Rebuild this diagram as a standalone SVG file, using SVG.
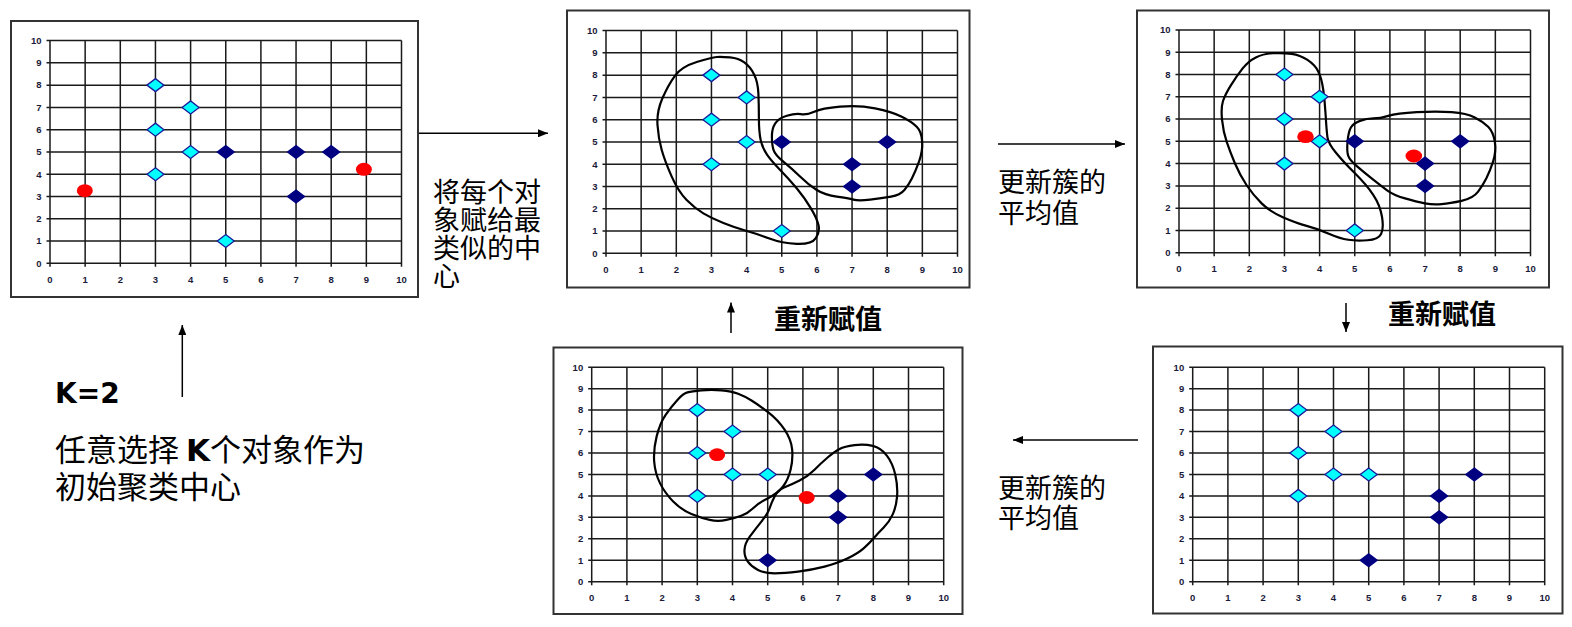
<svg xmlns="http://www.w3.org/2000/svg" xmlns:xlink="http://www.w3.org/1999/xlink" width="1572" height="627" viewBox="0 0 1572 627">
<style>
.frame{fill:#fff;stroke:#333;stroke-width:2}
.ax{font-family:"Liberation Sans",Arial,sans-serif;font-size:9.5px;font-weight:bold;fill:#1a1a3a}
.blob{fill:none;stroke:#000;stroke-width:2.2;stroke-linejoin:round;vector-effect:non-scaling-stroke}
.cy{fill:#00ffff;stroke:#1a1a99;stroke-width:1.3}
.dk{fill:#000080;stroke:#000080;stroke-width:1.3}
.red{fill:#ff0000}
.cn{font-family:"Noto Sans CJK SC","Noto Sans",sans-serif;font-size:27px;fill:#000}
.cnb{font-family:"Noto Sans CJK SC","Noto Sans",sans-serif;font-size:27px;font-weight:bold;fill:#000}
.conn{stroke:#000;stroke-width:1.5;fill:none;marker-end:url(#ah)}
</style>
<defs>
<marker id="ah" markerWidth="10" markerHeight="8" refX="10" refY="4" orient="auto" markerUnits="userSpaceOnUse"><path d="M0,0L10,4L0,8Z" fill="#000"/></marker>
<path id="dm" d="M-8.5,0L0,-6.5L8.5,0L0,6.5Z"/>
<path id="gridA" d="M0,3.5V-222.7M35.15,3.5V-222.7M70.3,3.5V-222.7M105.45,3.5V-222.7M140.6,3.5V-222.7M175.75,3.5V-222.7M210.9,3.5V-222.7M246.05,3.5V-222.7M281.2,3.5V-222.7M316.35,3.5V-222.7M351.5,3.5V-222.7M-3.5,0H351.5M-3.5,-22.27H351.5M-3.5,-44.54H351.5M-3.5,-66.81H351.5M-3.5,-89.08H351.5M-3.5,-111.35H351.5M-3.5,-133.62H351.5M-3.5,-155.89H351.5M-3.5,-178.16H351.5M-3.5,-200.43H351.5M-3.5,-222.7H351.5" fill="none" stroke="#1a1a1a" stroke-width="1.5"/>
<path id="gridB" d="M0,3.5V-214.5M35.2,3.5V-214.5M70.4,3.5V-214.5M105.6,3.5V-214.5M140.8,3.5V-214.5M176,3.5V-214.5M211.2,3.5V-214.5M246.4,3.5V-214.5M281.6,3.5V-214.5M316.8,3.5V-214.5M352,3.5V-214.5M-3.5,0H352M-3.5,-21.45H352M-3.5,-42.9H352M-3.5,-64.35H352M-3.5,-85.8H352M-3.5,-107.25H352M-3.5,-128.7H352M-3.5,-150.15H352M-3.5,-171.6H352M-3.5,-193.05H352M-3.5,-214.5H352" fill="none" stroke="#1a1a1a" stroke-width="1.5"/>
</defs>
<rect width="1572" height="627" fill="#fff"/>

<g id="chart1" transform="translate(50,263.3)">
<rect class="frame" x="-39" y="-242.3" width="407" height="276"/>
<use xlink:href="#gridA"/>
<text class="ax" text-anchor="end"><tspan x="-8.5" y="3.3">0</tspan><tspan x="-8.5" y="-18.97">1</tspan><tspan x="-8.5" y="-41.24">2</tspan><tspan x="-8.5" y="-63.51">3</tspan><tspan x="-8.5" y="-85.78">4</tspan><tspan x="-8.5" y="-108.05">5</tspan><tspan x="-8.5" y="-130.32">6</tspan><tspan x="-8.5" y="-152.59">7</tspan><tspan x="-8.5" y="-174.86">8</tspan><tspan x="-8.5" y="-197.13">9</tspan><tspan x="-8.5" y="-219.4">10</tspan></text>
<text class="ax" text-anchor="middle"><tspan x="0" y="19.5">0</tspan><tspan x="35.15" y="19.5">1</tspan><tspan x="70.3" y="19.5">2</tspan><tspan x="105.45" y="19.5">3</tspan><tspan x="140.6" y="19.5">4</tspan><tspan x="175.75" y="19.5">5</tspan><tspan x="210.9" y="19.5">6</tspan><tspan x="246.05" y="19.5">7</tspan><tspan x="281.2" y="19.5">8</tspan><tspan x="316.35" y="19.5">9</tspan><tspan x="351.5" y="19.5">10</tspan></text>
<use xlink:href="#dm" class="cy" x="105.45" y="-178.16"/>
<use xlink:href="#dm" class="cy" x="140.6" y="-155.89"/>
<use xlink:href="#dm" class="cy" x="105.45" y="-133.62"/>
<use xlink:href="#dm" class="cy" x="140.6" y="-111.35"/>
<use xlink:href="#dm" class="cy" x="105.45" y="-89.08"/>
<use xlink:href="#dm" class="cy" x="175.75" y="-22.27"/>
<use xlink:href="#dm" class="dk" x="175.75" y="-111.35"/>
<use xlink:href="#dm" class="dk" x="246.05" y="-111.35"/>
<use xlink:href="#dm" class="dk" x="281.2" y="-111.35"/>
<use xlink:href="#dm" class="dk" x="246.05" y="-66.81"/>
<ellipse class="red" cx="34.8" cy="-72.6" rx="8" ry="6.5"/>
<ellipse class="red" cx="313.9" cy="-94" rx="8" ry="6.5"/>
</g>

<g id="chart2" transform="translate(606,253.3)">
<rect class="frame" x="-39" y="-242.8" width="402.5" height="277"/>
<use xlink:href="#gridA"/>
<text class="ax" text-anchor="end"><tspan x="-8.5" y="3.3">0</tspan><tspan x="-8.5" y="-18.97">1</tspan><tspan x="-8.5" y="-41.24">2</tspan><tspan x="-8.5" y="-63.51">3</tspan><tspan x="-8.5" y="-85.78">4</tspan><tspan x="-8.5" y="-108.05">5</tspan><tspan x="-8.5" y="-130.32">6</tspan><tspan x="-8.5" y="-152.59">7</tspan><tspan x="-8.5" y="-174.86">8</tspan><tspan x="-8.5" y="-197.13">9</tspan><tspan x="-8.5" y="-219.4">10</tspan></text>
<text class="ax" text-anchor="middle"><tspan x="0" y="19.5">0</tspan><tspan x="35.15" y="19.5">1</tspan><tspan x="70.3" y="19.5">2</tspan><tspan x="105.45" y="19.5">3</tspan><tspan x="140.6" y="19.5">4</tspan><tspan x="175.75" y="19.5">5</tspan><tspan x="210.9" y="19.5">6</tspan><tspan x="246.05" y="19.5">7</tspan><tspan x="281.2" y="19.5">8</tspan><tspan x="316.35" y="19.5">9</tspan><tspan x="351.5" y="19.5">10</tspan></text>
<g transform="scale(35.15,-22.27)">
<path class="blob" d="M2.58,8.59 Q3.01,8.80 3.15,8.815 Q3.29,8.83 3.53,8.795 Q3.77,8.76 3.935,8.57 Q4.10,8.38 4.21,8.045 Q4.32,7.71 4.335,7.185 Q4.35,6.66 4.35,6.06 Q4.35,5.46 4.40,5.09 Q4.45,4.72 4.585,4.42 Q4.72,4.12 4.955,3.745 Q5.19,3.37 5.425,2.92 Q5.66,2.47 5.83,2.02 Q6.0,1.57 6.045,1.27 Q6.09,0.97 5.97,0.685 Q5.85,0.40 5.425,0.425 Q5.0,0.45 4.67,0.65 Q4.34,0.85 4.005,1.0 Q3.67,1.15 3.34,1.36 Q3.01,1.57 2.77,1.795 Q2.53,2.02 2.295,2.395 Q2.06,2.77 1.87,3.445 Q1.68,4.12 1.585,4.64 Q1.49,5.16 1.465,5.76 Q1.44,6.36 1.605,6.96 Q1.77,7.56 1.96,7.97 Q2.15,8.38 2.58,8.59Z"/>
<path class="blob" d="M5.545,6.25 Q5.71,6.21 5.925,6.36 Q6.14,6.51 6.66,6.585 Q7.18,6.66 7.655,6.51 Q8.13,6.36 8.415,6.135 Q8.70,5.91 8.84,5.685 Q8.98,5.46 8.995,5.015 Q9.01,4.57 8.905,4.12 Q8.80,3.67 8.705,3.37 Q8.61,3.07 8.49,2.845 Q8.37,2.62 8.11,2.545 Q7.85,2.47 7.515,2.41 Q7.18,2.35 7.04,2.41 Q6.90,2.47 6.565,2.545 Q6.23,2.62 5.995,2.845 Q5.76,3.07 5.52,3.445 Q5.28,3.82 5.045,4.12 Q4.81,4.42 4.765,4.645 Q4.72,4.87 4.72,5.24 Q4.72,5.61 4.815,5.835 Q4.91,6.06 5.145,6.175 Q5.38,6.29 5.545,6.25Z"/>
</g>
<use xlink:href="#dm" class="cy" x="105.45" y="-178.16"/>
<use xlink:href="#dm" class="cy" x="140.6" y="-155.89"/>
<use xlink:href="#dm" class="cy" x="105.45" y="-133.62"/>
<use xlink:href="#dm" class="cy" x="140.6" y="-111.35"/>
<use xlink:href="#dm" class="cy" x="105.45" y="-89.08"/>
<use xlink:href="#dm" class="cy" x="175.75" y="-22.27"/>
<use xlink:href="#dm" class="dk" x="175.75" y="-111.35"/>
<use xlink:href="#dm" class="dk" x="281.2" y="-111.35"/>
<use xlink:href="#dm" class="dk" x="246.05" y="-89.08"/>
<use xlink:href="#dm" class="dk" x="246.05" y="-66.81"/>
</g>

<g id="chart3" transform="translate(1179,252.7)">
<rect class="frame" x="-42" y="-242.2" width="412" height="277"/>
<use xlink:href="#gridA"/>
<text class="ax" text-anchor="end"><tspan x="-8.5" y="3.3">0</tspan><tspan x="-8.5" y="-18.97">1</tspan><tspan x="-8.5" y="-41.24">2</tspan><tspan x="-8.5" y="-63.51">3</tspan><tspan x="-8.5" y="-85.78">4</tspan><tspan x="-8.5" y="-108.05">5</tspan><tspan x="-8.5" y="-130.32">6</tspan><tspan x="-8.5" y="-152.59">7</tspan><tspan x="-8.5" y="-174.86">8</tspan><tspan x="-8.5" y="-197.13">9</tspan><tspan x="-8.5" y="-219.4">10</tspan></text>
<text class="ax" text-anchor="middle"><tspan x="0" y="19.5">0</tspan><tspan x="35.15" y="19.5">1</tspan><tspan x="70.3" y="19.5">2</tspan><tspan x="105.45" y="19.5">3</tspan><tspan x="140.6" y="19.5">4</tspan><tspan x="175.75" y="19.5">5</tspan><tspan x="210.9" y="19.5">6</tspan><tspan x="246.05" y="19.5">7</tspan><tspan x="281.2" y="19.5">8</tspan><tspan x="316.35" y="19.5">9</tspan><tspan x="351.5" y="19.5">10</tspan></text>
<g transform="scale(35.15,-22.27)">
<path class="blob" d="M2.685,8.96 Q2.97,8.98 3.205,8.93 Q3.44,8.88 3.655,8.655 Q3.87,8.43 3.965,8.13 Q4.06,7.83 4.105,7.305 Q4.15,6.78 4.175,6.105 Q4.20,5.43 4.225,5.17 Q4.25,4.91 4.46,4.50 Q4.67,4.09 5.005,3.565 Q5.34,3.04 5.53,2.59 Q5.72,2.14 5.775,1.615 Q5.83,1.09 5.75,0.845 Q5.67,0.60 5.36,0.56 Q5.05,0.52 4.815,0.58 Q4.58,0.64 4.245,0.865 Q3.91,1.09 3.63,1.205 Q3.35,1.32 2.97,1.58 Q2.59,1.84 2.35,2.215 Q2.11,2.59 1.92,3.04 Q1.73,3.49 1.59,4.015 Q1.45,4.54 1.355,4.985 Q1.26,5.43 1.225,5.965 Q1.19,6.50 1.25,6.80 Q1.31,7.10 1.475,7.515 Q1.64,7.93 1.805,8.265 Q1.97,8.60 2.185,8.77 Q2.40,8.94 2.685,8.96Z"/>
<path class="blob" d="M5.53,6.03 Q5.72,6.03 5.955,6.145 Q6.19,6.26 6.76,6.31 Q7.33,6.36 7.755,6.31 Q8.18,6.26 8.415,6.07 Q8.65,5.88 8.795,5.655 Q8.94,5.43 8.985,4.985 Q9.03,4.54 8.935,4.09 Q8.84,3.64 8.745,3.34 Q8.65,3.04 8.51,2.74 Q8.37,2.44 8.04,2.33 Q7.71,2.22 7.47,2.18 Q7.23,2.14 6.995,2.215 Q6.76,2.29 6.43,2.44 Q6.10,2.59 5.91,2.815 Q5.72,3.04 5.48,3.34 Q5.24,3.64 5.05,3.90 Q4.86,4.16 4.815,4.35 Q4.77,4.54 4.795,4.985 Q4.82,5.43 4.89,5.62 Q4.96,5.81 5.15,5.92 Q5.34,6.03 5.53,6.03Z"/>
</g>
<use xlink:href="#dm" class="cy" x="105.45" y="-178.16"/>
<use xlink:href="#dm" class="cy" x="140.6" y="-155.89"/>
<use xlink:href="#dm" class="cy" x="105.45" y="-133.62"/>
<use xlink:href="#dm" class="cy" x="140.6" y="-111.35"/>
<use xlink:href="#dm" class="cy" x="105.45" y="-89.08"/>
<use xlink:href="#dm" class="cy" x="175.75" y="-22.27"/>
<use xlink:href="#dm" class="dk" x="175.75" y="-111.35"/>
<use xlink:href="#dm" class="dk" x="281.2" y="-111.35"/>
<use xlink:href="#dm" class="dk" x="246.05" y="-89.08"/>
<use xlink:href="#dm" class="dk" x="246.05" y="-66.81"/>
<ellipse class="red" cx="126.5" cy="-116" rx="8.3" ry="6.4"/>
<ellipse class="red" cx="234.8" cy="-96.7" rx="8.3" ry="6.4"/>
</g>

<g id="chart4" transform="translate(591.7,581.7)">
<rect class="frame" x="-38.2" y="-234.2" width="409" height="266.5"/>
<use xlink:href="#gridB"/>
<text class="ax" text-anchor="end"><tspan x="-8.5" y="3.3">0</tspan><tspan x="-8.5" y="-18.15">1</tspan><tspan x="-8.5" y="-39.6">2</tspan><tspan x="-8.5" y="-61.05">3</tspan><tspan x="-8.5" y="-82.5">4</tspan><tspan x="-8.5" y="-103.95">5</tspan><tspan x="-8.5" y="-125.4">6</tspan><tspan x="-8.5" y="-146.85">7</tspan><tspan x="-8.5" y="-168.3">8</tspan><tspan x="-8.5" y="-189.75">9</tspan><tspan x="-8.5" y="-211.2">10</tspan></text>
<text class="ax" text-anchor="middle"><tspan x="0" y="19.5">0</tspan><tspan x="35.2" y="19.5">1</tspan><tspan x="70.4" y="19.5">2</tspan><tspan x="105.6" y="19.5">3</tspan><tspan x="140.8" y="19.5">4</tspan><tspan x="176" y="19.5">5</tspan><tspan x="211.2" y="19.5">6</tspan><tspan x="246.4" y="19.5">7</tspan><tspan x="281.6" y="19.5">8</tspan><tspan x="316.8" y="19.5">9</tspan><tspan x="352" y="19.5">10</tspan></text>
<g transform="scale(35.2,-21.45)">
<path class="blob" d="M2.72,8.825 Q2.84,8.88 3.12,8.92 Q3.40,8.96 3.685,8.92 Q3.97,8.88 4.16,8.76 Q4.35,8.64 4.54,8.45 Q4.73,8.26 5.01,7.905 Q5.29,7.55 5.48,7.085 Q5.67,6.62 5.695,6.155 Q5.72,5.69 5.65,5.22 Q5.58,4.75 5.435,4.44 Q5.29,4.13 5.01,3.895 Q4.73,3.66 4.585,3.425 Q4.44,3.19 4.25,3.075 Q4.06,2.96 3.825,2.88 Q3.59,2.80 3.355,2.88 Q3.12,2.96 2.835,3.155 Q2.55,3.35 2.315,3.74 Q2.08,4.13 1.94,4.595 Q1.80,5.06 1.775,5.605 Q1.75,6.15 1.845,6.775 Q1.94,7.40 2.105,7.79 Q2.27,8.18 2.435,8.475 Q2.60,8.77 2.72,8.825Z"/>
<path class="blob" d="M7.04,6.19 Q7.18,6.31 7.465,6.37 Q7.75,6.43 7.985,6.33 Q8.22,6.23 8.385,5.88 Q8.55,5.53 8.625,4.985 Q8.70,4.44 8.675,3.97 Q8.65,3.50 8.555,3.15 Q8.46,2.80 8.295,2.53 Q8.13,2.26 8.01,2.025 Q7.89,1.79 7.725,1.555 Q7.56,1.32 7.275,1.09 Q6.99,0.86 6.615,0.705 Q6.24,0.55 5.86,0.47 Q5.48,0.39 5.195,0.39 Q4.91,0.39 4.725,0.545 Q4.54,0.70 4.435,0.935 Q4.33,1.17 4.34,1.48 Q4.35,1.79 4.49,2.10 Q4.63,2.41 4.82,2.80 Q5.01,3.19 5.055,3.425 Q5.10,3.66 5.195,3.97 Q5.29,4.28 5.48,4.40 Q5.67,4.52 5.905,4.715 Q6.14,4.91 6.33,5.22 Q6.52,5.53 6.71,5.80 Q6.90,6.07 7.04,6.19Z"/>
</g>
<use xlink:href="#dm" class="cy" x="105.6" y="-171.6"/>
<use xlink:href="#dm" class="cy" x="140.8" y="-150.15"/>
<use xlink:href="#dm" class="cy" x="105.6" y="-128.7"/>
<use xlink:href="#dm" class="cy" x="140.8" y="-107.25"/>
<use xlink:href="#dm" class="cy" x="176" y="-107.25"/>
<use xlink:href="#dm" class="cy" x="105.6" y="-85.8"/>
<use xlink:href="#dm" class="dk" x="281.6" y="-107.25"/>
<use xlink:href="#dm" class="dk" x="246.4" y="-85.8"/>
<use xlink:href="#dm" class="dk" x="246.4" y="-64.35"/>
<use xlink:href="#dm" class="dk" x="176" y="-21.45"/>
<ellipse class="red" cx="125.4" cy="-127" rx="8" ry="6.4"/>
<ellipse class="red" cx="215" cy="-84.2" rx="8" ry="6.4"/>
</g>

<g id="chart5" transform="translate(1192.7,581.7)">
<rect class="frame" x="-39.7" y="-235.2" width="409.5" height="267"/>
<use xlink:href="#gridB"/>
<text class="ax" text-anchor="end"><tspan x="-8.5" y="3.3">0</tspan><tspan x="-8.5" y="-18.15">1</tspan><tspan x="-8.5" y="-39.6">2</tspan><tspan x="-8.5" y="-61.05">3</tspan><tspan x="-8.5" y="-82.5">4</tspan><tspan x="-8.5" y="-103.95">5</tspan><tspan x="-8.5" y="-125.4">6</tspan><tspan x="-8.5" y="-146.85">7</tspan><tspan x="-8.5" y="-168.3">8</tspan><tspan x="-8.5" y="-189.75">9</tspan><tspan x="-8.5" y="-211.2">10</tspan></text>
<text class="ax" text-anchor="middle"><tspan x="0" y="19.5">0</tspan><tspan x="35.2" y="19.5">1</tspan><tspan x="70.4" y="19.5">2</tspan><tspan x="105.6" y="19.5">3</tspan><tspan x="140.8" y="19.5">4</tspan><tspan x="176" y="19.5">5</tspan><tspan x="211.2" y="19.5">6</tspan><tspan x="246.4" y="19.5">7</tspan><tspan x="281.6" y="19.5">8</tspan><tspan x="316.8" y="19.5">9</tspan><tspan x="352" y="19.5">10</tspan></text>
<use xlink:href="#dm" class="cy" x="105.6" y="-171.6"/>
<use xlink:href="#dm" class="cy" x="140.8" y="-150.15"/>
<use xlink:href="#dm" class="cy" x="105.6" y="-128.7"/>
<use xlink:href="#dm" class="cy" x="140.8" y="-107.25"/>
<use xlink:href="#dm" class="cy" x="176" y="-107.25"/>
<use xlink:href="#dm" class="cy" x="105.6" y="-85.8"/>
<use xlink:href="#dm" class="dk" x="281.6" y="-107.25"/>
<use xlink:href="#dm" class="dk" x="246.4" y="-85.8"/>
<use xlink:href="#dm" class="dk" x="246.4" y="-64.35"/>
<use xlink:href="#dm" class="dk" x="176" y="-21.45"/>
</g>

<g id="connectors">
<path class="conn" d="M419,133.3H548"/>
<path class="conn" d="M998,144H1125"/>
<path class="conn" d="M1346,303V332"/>
<path class="conn" d="M1138,440H1013"/>
<path class="conn" d="M731,333V302.5"/>
<path class="conn" d="M182.3,397V325"/>
</g>

<g id="labels">
<text class="cn"><tspan x="433" y="202">将每个对</tspan><tspan x="433" y="230">象赋给最</tspan><tspan x="433" y="258">类似的中</tspan><tspan x="433" y="286">心</tspan></text>
<text class="cn"><tspan x="998" y="192">更新簇的</tspan><tspan x="998" y="223">平均值</tspan></text>
<text class="cnb" x="1388" y="323.5">重新赋值</text>
<text class="cn"><tspan x="998" y="498">更新簇的</tspan><tspan x="998" y="528">平均值</tspan></text>
<text class="cnb" x="774" y="328.5">重新赋值</text>
<text x="55" y="403" font-family="DejaVu Sans,sans-serif" font-size="28" font-weight="bold" fill="#000">K=2</text>
<text class="cn" style="font-size:31px"><tspan x="55" y="461">任意选择 </tspan><tspan font-family="DejaVu Sans,sans-serif" font-weight="bold">K</tspan><tspan>个对象作为</tspan><tspan x="55" y="498">初始聚类中心</tspan></text>
</g>
</svg>
